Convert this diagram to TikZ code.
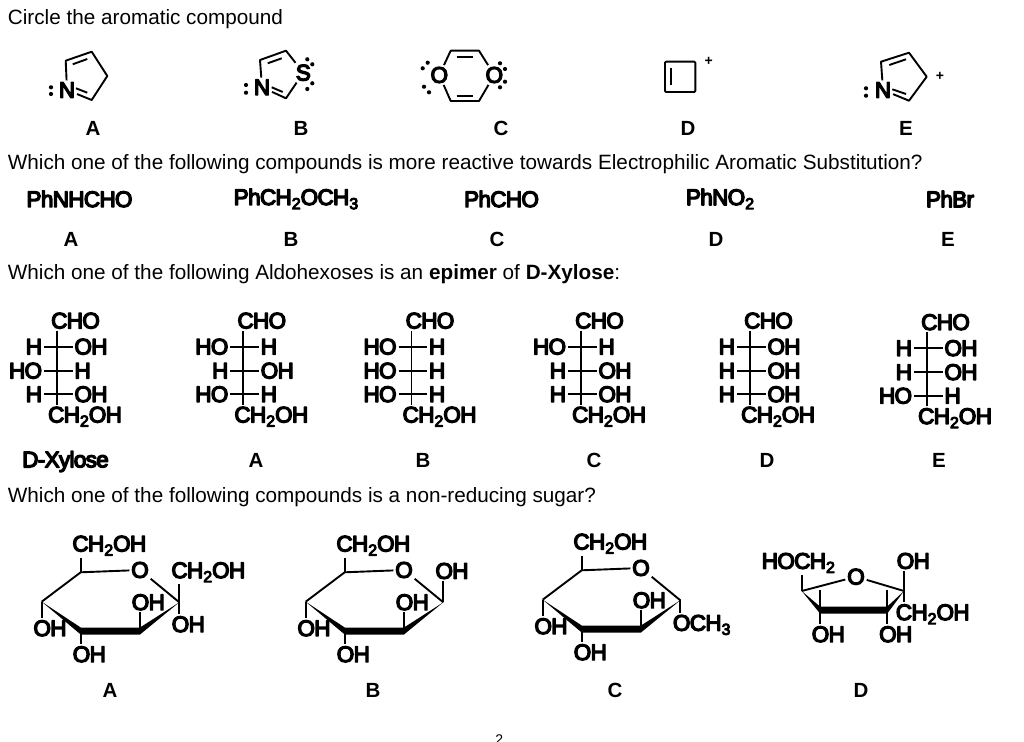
\documentclass[tikz,border=0pt]{standalone}
\usepackage{fontspec}
\setmainfont{Liberation Sans}
\newfontfamily\chemfont[LetterSpace=-3,FakeBold=6]{Liberation Sans}
\usetikzlibrary{positioning}
\newcommand{\lowtwo}[1]{\raisebox{-.35ex}{\fontsize{16}{16}\selectfont #1}}
\tikzset{
  atom/.style = {font=\fontsize{22.5}{22.5}\selectfont\chemfont, inner sep=1pt},
  lab/.style = {font=\fontsize{20.5}{20.5}\selectfont\bfseries, inner sep=0pt},
  ques/.style = {font=\fontsize{20.7}{22}\selectfont, anchor=base west, inner sep=0pt},
  plus/.style = {font=\fontsize{14}{14}\selectfont\bfseries, inner sep=0pt}
}
% one Fischer projection: x, y offset, name, then left/right of each row
\newcommand{\fischer}[9]{
  \begin{scope}[shift={(#1,#2)}, name prefix=#3-]
    \node[atom] (top) at (18.5,320.7) {CHO};
    \node[atom] (bot) at (28,416.7) {CH\lowtwo{2}OH};
    \coordinate (c1) at (0,346.7);
    \coordinate (c3) at (0,394.3);
    \node[atom, anchor=east] (l1) at (-13,346.7) {#4};
    \node[atom, anchor=west] (r1) at (15.5,346.7) {#5};
    \node[atom, anchor=east] (l2) at (-13,370.7) {#6};
    \node[atom, anchor=west] (r2) at (15.5,370.7) {#7};
    \node[atom, anchor=east] (l3) at (-13,394.3) {#8};
    \node[atom, anchor=west] (r3) at (15.5,394.3) {#9};
    \draw (c1 |- top.south) -- (c3 |- bot.north);
    \draw (l1) -- (r1);
    \draw (l2) -- (r2);
    \draw (l3) -- (r3);
  \end{scope}
}
% six-membered sugar ring, without the group on its right corner
\newcommand{\pyranose}[3]{
  \begin{scope}[shift={(#2,#3)}, name prefix=#1-]
    \coordinate (tl) at (80.7,572.3);
    \coordinate (r) at (179.3,602.3);
    \coordinate (br) at (140,631);
    \coordinate (bl) at (80.7,631);
    \coordinate (lf) at (41.7,601.7);
    \node[atom] (o) at (140,570) {O};
    \node[atom] (ch) at (109.3,545.7) {CH\lowtwo{2}OH};
    \node[atom] (ohl) at (50,628.3) {OH};
    \node[atom] (ohb) at (89.3,654.3) {OH};
    \node[atom] (ohu) at (148.3,602.3) {OH};
    \draw (tl) -- (o);
    \draw (o) -- (r);
    \draw (tl) -- (lf);
    \draw (tl) -- (tl |- ch.south);
    \draw (lf) -- (lf |- ohl.north);
    \draw (bl) -- (bl |- ohb.north);
    \draw (br) -- (br |- ohu.south);
    \fill (lf) -- ([yshift=3.5pt]bl) -- ([yshift=3.5pt]br) -- (r) -- ([yshift=-3.5pt]br) -- ([yshift=-3.5pt]bl) -- cycle;
  \end{scope}
}
\begin{document}
\begin{tikzpicture}[x=1pt, y=-1pt, line width=1.9pt, line join=round]
  \useasboundingbox (0,0) rectangle (1024,741);
  \node[ques] (q1) at (7,25) {Circle the aromatic compound};
  \node[ques] (q2) at (7,169) {Which one of the following compounds is more reactive towards Electrophilic Aromatic Substitution?};
  \node[ques] (q3) at (7,279) {Which one of the following Aldohexoses is an \textbf{epimer} of \textbf{D-Xylose}:};
  \node[ques] (q4) at (7,502) {Which one of the following compounds is a non-reducing sugar?};

  % ring A
  \node[atom] (aN) at (67,90) {N};
  \coordinate (a1) at (65.7,60.7);
  \coordinate (a2) at (91.7,51.7);
  \coordinate (a3) at (107.3,76);
  \coordinate (a4) at (91.7,100);
  \draw (aN) -- (a1) -- (a2) -- (a3) -- (a4) -- (aN);
  \coordinate (a5) at (72.7,64.3);
  \coordinate (a6) at (87.3,59);
  \coordinate (a7) at (76,88.3);
  \coordinate (a8) at (87.3,92.7);
  \draw (a5) -- (a6);
  \draw (a7) -- (a8);
  % ring B
  \node[atom] (bN) at (262,87.3) {N};
  \node[atom] (bS) at (303.3,72.7) {S};
  \coordinate (b1) at (260,60);
  \coordinate (b2) at (286,50.7);
  \coordinate (b3) at (286,98.3);
  \draw (bN) -- (b1) -- (b2) -- (bS) -- (b3) -- (bN);
  \coordinate (b5) at (267.7,63.3);
  \coordinate (b6) at (281.7,58.3);
  \coordinate (b7) at (271.7,87.3);
  \coordinate (b8) at (282.7,92);
  \draw (b5) -- (b6);
  \draw (b7) -- (b8);
  % ring C
  \node[atom] (cO1) at (439.3,75) {O};
  \node[atom] (cO2) at (494.3,75) {O};
  \coordinate (c1) at (450.7,50.7);
  \coordinate (c2) at (479,50.7);
  \coordinate (c3) at (479,101);
  \coordinate (c4) at (450.7,101);
  \draw (cO1) -- (c1) -- (c2) -- (cO2) -- (c3) -- (c4) -- (cO1);
  \coordinate (c5) at (456.7,56.7);
  \coordinate (c6) at (473.3,56.7);
  \coordinate (c7) at (456.7,96);
  \coordinate (c8) at (473.3,96);
  \draw (c5) -- (c6);
  \draw (c7) -- (c8);
  % ring D
  \coordinate (d1) at (665,61.7);
  \coordinate (d2) at (695.3,92);
  \coordinate (d3) at (671,68.3);
  \coordinate (d4) at (671,85);
  \draw[rounded corners=1pt] (d1) rectangle (d2);
  \draw (d3) -- (d4);
  \node[plus] (dP) at (708.7,61.7) {+};
  % ring E
  \node[atom] (eN) at (883,90) {N};
  \coordinate (e1) at (881,61.7);
  \coordinate (e2) at (909,52.7);
  \coordinate (e3) at (926.7,76.7);
  \coordinate (e4) at (909,100.7);
  \draw (eN) -- (e1) -- (e2) -- (e3) -- (e4) -- (eN);
  \coordinate (e5) at (889.3,65);
  \coordinate (e6) at (906,59.3);
  \coordinate (e7) at (892.3,89.3);
  \coordinate (e8) at (906,94);
  \draw (e5) -- (e6);
  \draw (e7) -- (e8);
  \node[plus] (eP) at (940,76.7) {+};
  % lone pairs
  \foreach \px/\py in {51/87.3, 51/94, 246/85, 246/92.7, 307.3/59.3, 312.3/64.3, 312.3/83.3, 307.3/89,
    427.7/62.7, 422.7/68.3, 424/86.7, 429/92.3, 500/63.3, 505/69, 505/81.7, 500/87.3, 866/88.3, 866/95.7}
    \fill (\px,\py) circle (2.1);

  \foreach \nm/\px/\tx in {la/93/A, lb/301/B, lc/501/C, ld/688/D, le/906/E}
    \node[lab] (\nm) at (\px,128) {\tx};

  \node[atom] (p1) at (79.5,199) {PhNHCHO};
  \node[atom] (p2) at (296,199) {PhCH\lowtwo{2}OCH\lowtwo{3}};
  \node[atom] (p3) at (501.5,199) {PhCHO};
  \node[atom] (p4) at (720,199) {PhNO\lowtwo{2}};
  \node[atom] (p5) at (950,199) {PhBr};
  \foreach \nm/\px/\tx in {ma/71/A, mb/291/B, mc/497/C, md/716/D, me/948/E}
    \node[lab] (\nm) at (\px,239) {\tx};

  \fischer{57}{0}{xy}{H}{OH}{HO}{H}{H}{OH}
  \fischer{243.3}{0}{fa}{HO}{H}{H}{OH}{HO}{H}
  \fischer{411.5}{0}{fb}{HO}{H}{HO}{H}{HO}{H}
  \fischer{581}{0}{fc}{HO}{H}{H}{OH}{H}{OH}
  \fischer{750}{0}{fd}{H}{OH}{H}{OH}{H}{OH}
  \fischer{927}{1.5}{fe}{H}{OH}{H}{OH}{HO}{H}

  \node[atom] (nx) at (65.5,461.5) {D-Xylose};
  \foreach \nm/\px/\tx in {na/256/A, nb/423/B, nc/594/C, nd/767/D, ne/939/E}
    \node[lab] (\nm) at (\px,460) {\tx};

  % sugars
  \pyranose{sa}{0}{0}
  \node[atom] (sa-x) at (208.3,572.3) {CH\lowtwo{2}OH};
  \node[atom] (sa-y) at (188.3,624.3) {OH};
  \draw (sa-r) -- (sa-r |- sa-x.south);
  \draw (sa-r) -- (sa-r |- sa-y.north);
  \pyranose{sb}{264}{0}
  \node[atom] (sb-x) at (452,571) {OH};
  \draw (sb-r) -- (sb-r |- sb-x.south);
  \pyranose{sc}{501}{-2}
  \node[atom] (sc-x) at (701.7,625) {OCH\lowtwo{3}};
  \draw (sc-r) -- (sc-r |- sc-x.north);

  \node[atom] (so) at (856,576.7) {O};
  \coordinate (s1) at (801.7,591);
  \coordinate (s2) at (904,591);
  \coordinate (s3) at (887.3,610);
  \coordinate (s4) at (820,610);
  \node[atom] (sh) at (798.3,563) {HOCH\lowtwo{2}};
  \node[atom] (st) at (913.3,561) {OH};
  \node[atom] (sx) at (932.7,614.3) {CH\lowtwo{2}OH};
  \node[atom] (sl) at (828.3,634.3) {OH};
  \node[atom] (sr) at (895.7,634.3) {OH};
  \coordinate (s5) at (820,590);
  \coordinate (s6) at (887.3,590);
  \draw (s1) -- (so);
  \draw (so) -- (s2);
  \draw (s1) -- (s1 |- sh.south);
  \draw (s2) -- (s2 |- st.south);
  \draw (s2) -- (s2 |- sx.north);
  \draw (s4) -- (s4 |- sl.north);
  \draw (s3) -- (s3 |- sr.north);
  \draw (s5) -- (s4);
  \draw (s6) -- (s3);
  \fill (s1) -- ([yshift=3.5pt]s4) -- ([yshift=3.5pt]s3) -- (s2) -- ([yshift=-3.5pt]s3) -- ([yshift=-3.5pt]s4) -- cycle;

  \foreach \nm/\px/\tx in {ta/110/A, tb/373/B, tc/615/C, td/861/D}
    \node[lab] (\nm) at (\px,690) {\tx};
  \node[ques, font=\fontsize{14}{14}\selectfont] (pg) at (494.5,744) {2};
\end{tikzpicture}
\end{document}
